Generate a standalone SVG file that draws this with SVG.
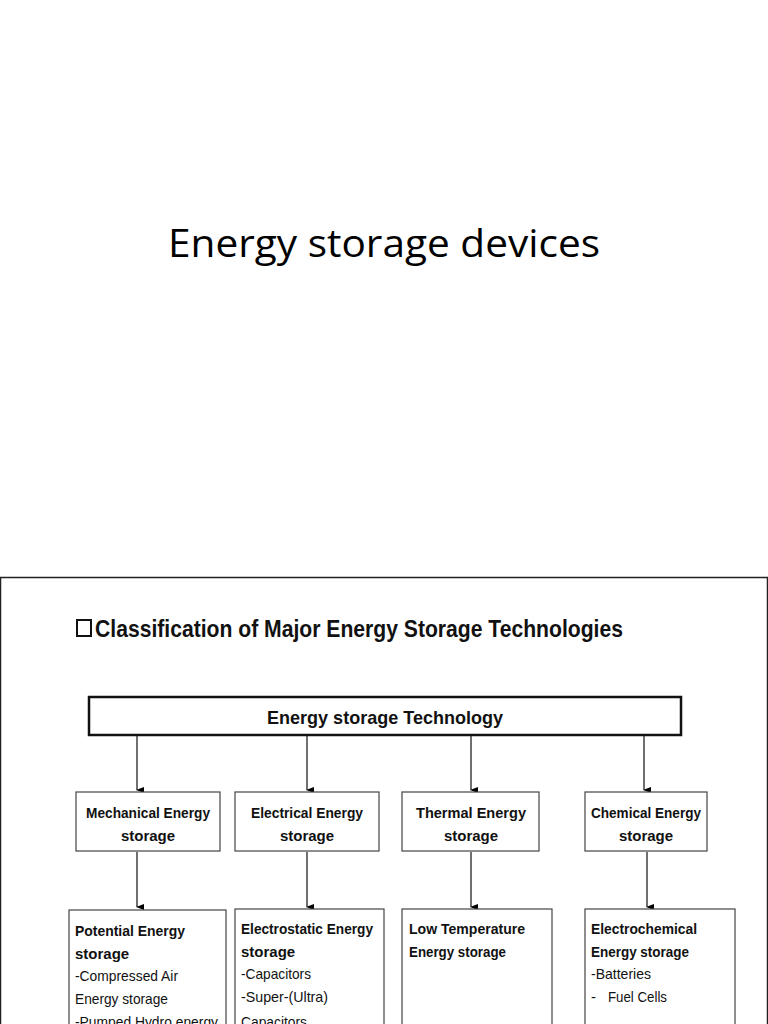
<svg xmlns="http://www.w3.org/2000/svg" width="768" height="1024" viewBox="0 0 768 1024">
<defs><marker id="a" markerWidth="10" markerHeight="10" refX="4" refY="8" orient="auto" markerUnits="userSpaceOnUse"><path d="M1,1 L4,9 L7,1 Z" fill="#000"/></marker></defs>
<style>
.t{font-family:"Liberation Sans",Arial,sans-serif;fill:#111;}
.b{font-weight:bold;font-size:15px;}
.n{font-size:15px;}
.box{fill:#fff;stroke:#444;stroke-width:1.2;}
.c{stroke:#222;stroke-width:1.3;fill:none;marker-end:url(#a);}
</style>
<rect width="768" height="1024" fill="#fff"/>
<text x="384" y="257" text-anchor="middle" font-family="'Open Sans',sans-serif" font-size="38" fill="#000" textLength="432" lengthAdjust="spacingAndGlyphs">Energy storage devices</text>
<path d="M0.5,1024 V577.5 H767.5 V1024" fill="none" stroke="#222" stroke-width="1.5"/>
<g id="title"><rect x="77" y="620" width="14" height="16" fill="none" stroke="#111" stroke-width="2"/>
<text class="t" x="95" y="637" font-size="24" font-weight="bold" textLength="528" lengthAdjust="spacingAndGlyphs">Classification of Major Energy Storage Technologies</text></g>
<g id="root"><rect x="89" y="697" width="592" height="38" fill="#fff" stroke="#111" stroke-width="2.5"/>
<text class="t" x="385" y="724" text-anchor="middle" font-size="19" font-weight="bold" textLength="236" lengthAdjust="spacingAndGlyphs">Energy storage Technology</text></g>
<g id="connectors">
<path class="c" d="M137,736 V790"/><path class="c" d="M307,736 V790"/><path class="c" d="M471,736 V790"/><path class="c" d="M644,736 V790"/>
<path class="c" d="M137,852 V907"/><path class="c" d="M307,852 V907"/><path class="c" d="M471,852 V907"/><path class="c" d="M647,852 V907"/>
</g>
<g id="mech"><rect class="box" x="76" y="792" width="144" height="59"/>
<text class="t b" text-anchor="middle" x="148" y="818" textLength="124" lengthAdjust="spacingAndGlyphs">Mechanical Energy</text><text class="t b" text-anchor="middle" x="148" y="841">storage</text></g>
<g id="elec"><rect class="box" x="235" y="792" width="144" height="59"/>
<text class="t b" text-anchor="middle" x="307" y="818" textLength="112" lengthAdjust="spacingAndGlyphs">Electrical Energy</text><text class="t b" text-anchor="middle" x="307" y="841">storage</text></g>
<g id="therm"><rect class="box" x="402" y="792" width="137" height="59"/>
<text class="t b" text-anchor="middle" x="471" y="818" textLength="110" lengthAdjust="spacingAndGlyphs">Thermal  Energy</text><text class="t b" text-anchor="middle" x="471" y="841">storage</text></g>
<g id="chem"><rect class="box" x="585" y="792" width="122" height="59"/>
<text class="t b" text-anchor="middle" x="646" y="818" textLength="110" lengthAdjust="spacingAndGlyphs">Chemical Energy</text><text class="t b" text-anchor="middle" x="646" y="841">storage</text></g>
<g id="pot"><rect class="box" x="69" y="910" width="157" height="130"/>
<text class="t b" x="75" y="936" textLength="110" lengthAdjust="spacingAndGlyphs">Potential Energy</text><text class="t b" x="75" y="959">storage</text>
<text class="t n" x="75" y="981" textLength="103" lengthAdjust="spacingAndGlyphs">-Compressed Air</text><text class="t n" x="75" y="1004" textLength="93" lengthAdjust="spacingAndGlyphs">Energy storage</text><text class="t n" x="75" y="1027" textLength="143" lengthAdjust="spacingAndGlyphs">-Pumped Hydro energy</text></g>
<g id="estat"><rect class="box" x="235" y="909" width="149" height="130"/>
<text class="t b" x="241" y="934" textLength="132" lengthAdjust="spacingAndGlyphs">Electrostatic Energy</text><text class="t b" x="241" y="957">storage</text>
<text class="t n" x="241" y="979" textLength="70" lengthAdjust="spacingAndGlyphs">-Capacitors</text><text class="t n" x="241" y="1002" textLength="87" lengthAdjust="spacingAndGlyphs">-Super-(Ultra)</text><text class="t n" x="241" y="1027" textLength="66" lengthAdjust="spacingAndGlyphs">Capacitors</text></g>
<g id="lowt"><rect class="box" x="402" y="909" width="150" height="130"/>
<text class="t b" x="409" y="934" textLength="116" lengthAdjust="spacingAndGlyphs">Low Temperature</text><text class="t b" x="409" y="957" textLength="97" lengthAdjust="spacingAndGlyphs">Energy storage</text></g>
<g id="echem"><rect class="box" x="585" y="909" width="150" height="130"/>
<text class="t b" x="591" y="934" textLength="106" lengthAdjust="spacingAndGlyphs">Electrochemical</text><text class="t b" x="591" y="957" textLength="98" lengthAdjust="spacingAndGlyphs">Energy storage</text>
<text class="t n" x="591" y="979" textLength="60" lengthAdjust="spacingAndGlyphs">-Batteries</text><text class="t n" x="591" y="1002">-</text><text class="t n" x="608" y="1002" textLength="59" lengthAdjust="spacingAndGlyphs">Fuel Cells</text></g>
</svg>
